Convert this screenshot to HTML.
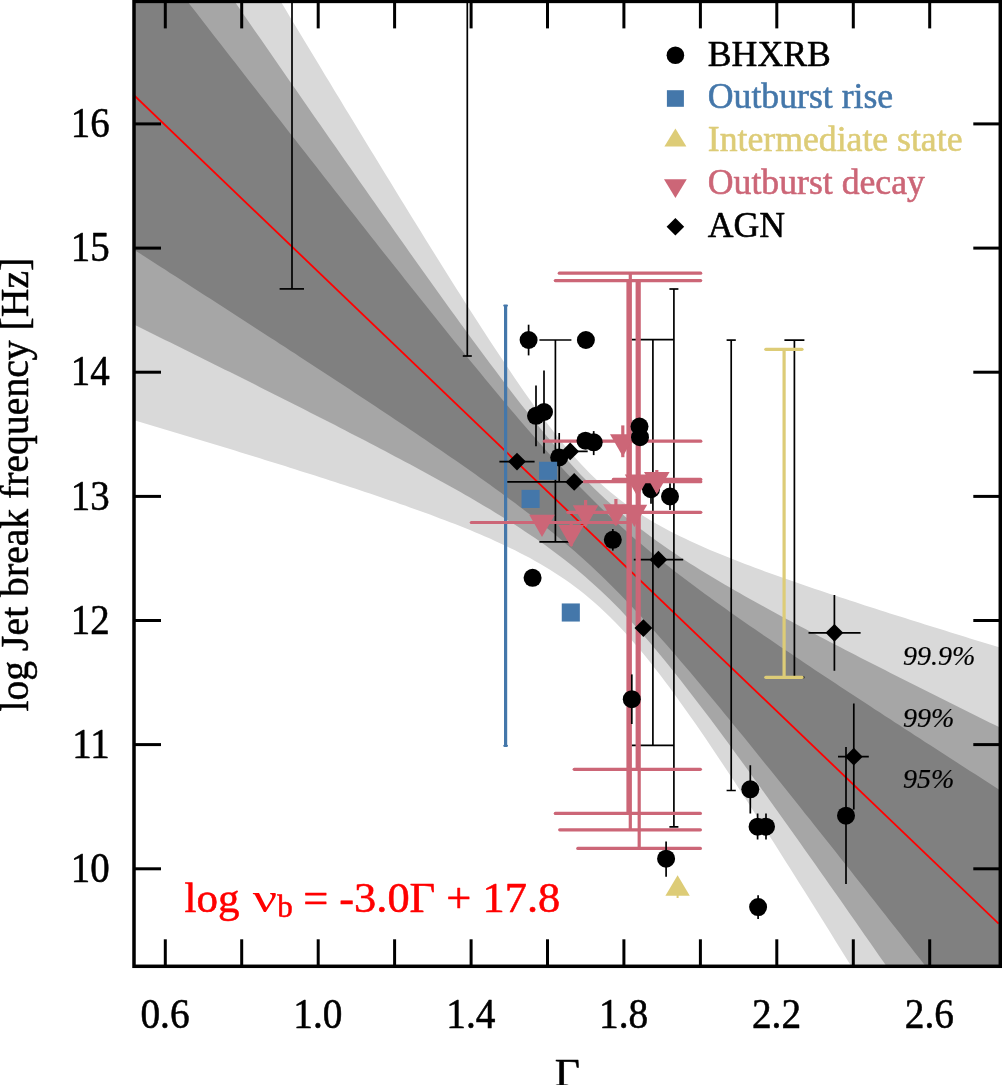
<!DOCTYPE html>
<html><head><meta charset="utf-8"><title>Jet break frequency</title>
<style>html,body{margin:0;padding:0;background:#fff}svg{display:block}</style></head>
<body>
<svg width="1002" height="1085" viewBox="0 0 1002 1085" style="display:block">
<rect width="1002" height="1085" fill="#fff"/>
<defs><clipPath id="c"><rect x="134.0" y="1.4" width="866.3" height="964.9"/></clipPath></defs>
<g clip-path="url(#c)">
<polygon points="120.0,-266.4 125.0,-258.0 130.0,-249.7 135.0,-241.3 140.0,-232.9 145.0,-224.6 150.0,-216.2 155.0,-207.9 160.0,-199.5 165.0,-191.2 170.0,-182.8 175.0,-174.5 180.0,-166.1 185.0,-157.8 190.0,-149.5 195.0,-141.1 200.0,-132.8 205.0,-124.4 210.0,-116.1 215.0,-107.8 220.0,-99.4 225.0,-91.1 230.0,-82.8 235.0,-74.5 240.0,-66.1 245.0,-57.8 250.0,-49.5 255.0,-41.2 260.0,-32.9 265.0,-24.6 270.0,-16.3 275.0,-8.0 280.0,0.3 285.0,8.6 290.0,16.9 295.0,25.2 300.0,33.5 305.0,41.8 310.0,50.1 315.0,58.3 320.0,66.6 325.0,74.9 330.0,83.1 335.0,91.4 340.0,99.6 345.0,107.9 350.0,116.1 355.0,124.3 360.0,132.5 365.0,140.7 370.0,148.9 375.0,157.1 380.0,165.3 385.0,173.5 390.0,181.6 395.0,189.8 400.0,197.9 405.0,206.1 410.0,214.2 415.0,222.3 420.0,230.3 425.0,238.4 430.0,246.5 435.0,254.5 440.0,262.5 445.0,270.5 450.0,278.4 455.0,286.4 460.0,294.3 465.0,302.2 470.0,310.0 475.0,317.8 480.0,325.6 485.0,333.3 490.0,340.9 495.0,348.6 500.0,356.1 505.0,363.6 510.0,371.1 515.0,378.4 520.0,385.7 525.0,392.9 530.0,400.0 535.0,406.9 540.0,413.8 545.0,420.5 550.0,427.1 555.0,433.6 560.0,439.8 565.0,445.9 570.0,451.8 575.0,457.5 580.0,463.1 585.0,468.3 590.0,473.4 595.0,478.3 600.0,482.9 605.0,487.4 610.0,491.7 615.0,495.8 620.0,499.7 625.0,503.4 630.0,507.0 635.0,510.5 640.0,513.8 645.0,517.0 650.0,520.0 655.0,522.9 660.0,525.8 665.0,528.5 670.0,531.2 675.0,533.7 680.0,536.2 685.0,538.6 690.0,541.0 695.0,543.3 700.0,545.5 705.0,547.7 710.0,549.9 715.0,552.0 720.0,554.1 725.0,556.1 730.0,558.1 735.0,560.1 740.0,562.0 745.0,563.9 750.0,565.8 755.0,567.7 760.0,569.5 765.0,571.4 770.0,573.2 775.0,575.0 780.0,576.8 785.0,578.5 790.0,580.3 795.0,582.0 800.0,583.7 805.0,585.5 810.0,587.2 815.0,588.9 820.0,590.5 825.0,592.2 830.0,593.9 835.0,595.5 840.0,597.2 845.0,598.8 850.0,600.5 855.0,602.1 860.0,603.7 865.0,605.4 870.0,607.0 875.0,608.6 880.0,610.2 885.0,611.8 890.0,613.4 895.0,615.0 900.0,616.5 905.0,618.1 910.0,619.7 915.0,621.3 920.0,622.8 925.0,624.4 930.0,626.0 935.0,627.5 940.0,629.1 945.0,630.6 950.0,632.2 955.0,633.7 960.0,635.3 965.0,636.8 970.0,638.4 975.0,639.9 980.0,641.5 985.0,643.0 990.0,644.5 995.0,646.1 1000.0,647.6 1005.0,649.1 1010.0,650.6 1010.0,1225.2 1005.0,1217.0 1000.0,1208.8 995.0,1200.6 990.0,1192.4 985.0,1184.2 980.0,1176.0 975.0,1167.8 970.0,1159.6 965.0,1151.5 960.0,1143.3 955.0,1135.1 950.0,1126.9 945.0,1118.7 940.0,1110.6 935.0,1102.4 930.0,1094.2 925.0,1086.1 920.0,1077.9 915.0,1069.8 910.0,1061.6 905.0,1053.5 900.0,1045.3 895.0,1037.2 890.0,1029.1 885.0,1021.0 880.0,1012.9 875.0,1004.7 870.0,996.6 865.0,988.5 860.0,980.5 855.0,972.4 850.0,964.3 845.0,956.2 840.0,948.2 835.0,940.2 830.0,932.1 825.0,924.1 820.0,916.1 815.0,908.1 810.0,900.1 805.0,892.1 800.0,884.2 795.0,876.2 790.0,868.3 785.0,860.4 780.0,852.5 775.0,844.6 770.0,836.8 765.0,829.0 760.0,821.2 755.0,813.4 750.0,805.6 745.0,797.9 740.0,790.3 735.0,782.6 730.0,775.0 725.0,767.4 720.0,759.9 715.0,752.4 710.0,745.0 705.0,737.6 700.0,730.3 695.0,723.1 690.0,715.9 685.0,708.9 680.0,701.9 675.0,694.9 670.0,688.1 665.0,681.4 660.0,674.8 655.0,668.4 650.0,662.0 645.0,655.8 640.0,649.8 635.0,643.9 630.0,638.2 625.0,632.6 620.0,627.2 615.0,622.0 610.0,617.0 605.0,612.2 600.0,607.5 595.0,603.0 590.0,598.7 585.0,594.6 580.0,590.6 575.0,586.8 570.0,583.1 565.0,579.6 560.0,576.2 555.0,572.9 550.0,569.7 545.0,566.7 540.0,563.7 535.0,560.9 530.0,558.1 525.0,555.5 520.0,552.9 515.0,550.3 510.0,547.9 505.0,545.5 500.0,543.2 495.0,540.9 490.0,538.6 485.0,536.5 480.0,534.3 475.0,532.2 470.0,530.1 465.0,528.1 460.0,526.1 455.0,524.1 450.0,522.2 445.0,520.3 440.0,518.4 435.0,516.5 430.0,514.6 425.0,512.8 420.0,511.0 415.0,509.2 410.0,507.4 405.0,505.6 400.0,503.9 395.0,502.1 390.0,500.4 385.0,498.7 380.0,497.0 375.0,495.3 370.0,493.6 365.0,491.9 360.0,490.3 355.0,488.6 350.0,487.0 345.0,485.3 340.0,483.7 335.0,482.1 330.0,480.5 325.0,478.8 320.0,477.2 315.0,475.6 310.0,474.0 305.0,472.5 300.0,470.9 295.0,469.3 290.0,467.7 285.0,466.1 280.0,464.6 275.0,463.0 270.0,461.5 265.0,459.9 260.0,458.3 255.0,456.8 250.0,455.3 245.0,453.7 240.0,452.2 235.0,450.6 230.0,449.1 225.0,447.6 220.0,446.0 215.0,444.5 210.0,443.0 205.0,441.5 200.0,440.0 195.0,438.4 190.0,436.9 185.0,435.4 180.0,433.9 175.0,432.4 170.0,430.9 165.0,429.4 160.0,427.9 155.0,426.4 150.0,424.9 145.0,423.4 140.0,421.9 135.0,420.4 130.0,418.9 125.0,417.4 120.0,415.9" fill="#d9d9d9"/>
<polygon points="120.0,-164.9 125.0,-157.6 130.0,-150.4 135.0,-143.1 140.0,-135.8 145.0,-128.6 150.0,-121.3 155.0,-114.0 160.0,-106.8 165.0,-99.5 170.0,-92.3 175.0,-85.0 180.0,-77.7 185.0,-70.5 190.0,-63.2 195.0,-56.0 200.0,-48.7 205.0,-41.5 210.0,-34.2 215.0,-27.0 220.0,-19.8 225.0,-12.5 230.0,-5.3 235.0,2.0 240.0,9.2 245.0,16.4 250.0,23.7 255.0,30.9 260.0,38.1 265.0,45.3 270.0,52.6 275.0,59.8 280.0,67.0 285.0,74.2 290.0,81.4 295.0,88.6 300.0,95.8 305.0,103.0 310.0,110.2 315.0,117.4 320.0,124.6 325.0,131.8 330.0,139.0 335.0,146.1 340.0,153.3 345.0,160.5 350.0,167.6 355.0,174.8 360.0,181.9 365.0,189.0 370.0,196.2 375.0,203.3 380.0,210.4 385.0,217.5 390.0,224.6 395.0,231.7 400.0,238.8 405.0,245.8 410.0,252.9 415.0,260.0 420.0,267.0 425.0,274.0 430.0,281.0 435.0,288.0 440.0,295.0 445.0,301.9 450.0,308.9 455.0,315.8 460.0,322.7 465.0,329.5 470.0,336.4 475.0,343.2 480.0,350.0 485.0,356.7 490.0,363.5 495.0,370.1 500.0,376.8 505.0,383.4 510.0,389.9 515.0,396.4 520.0,402.9 525.0,409.2 530.0,415.6 535.0,421.8 540.0,428.0 545.0,434.1 550.0,440.1 555.0,446.0 560.0,451.8 565.0,457.5 570.0,463.1 575.0,468.5 580.0,473.9 585.0,479.1 590.0,484.2 595.0,489.2 600.0,494.0 605.0,498.7 610.0,503.3 615.0,507.8 620.0,512.1 625.0,516.4 630.0,520.5 635.0,524.6 640.0,528.5 645.0,532.3 650.0,536.1 655.0,539.7 660.0,543.3 665.0,546.8 670.0,550.3 675.0,553.6 680.0,557.0 685.0,560.2 690.0,563.4 695.0,566.6 700.0,569.7 705.0,572.8 710.0,575.8 715.0,578.8 720.0,581.8 725.0,584.7 730.0,587.6 735.0,590.5 740.0,593.3 745.0,596.2 750.0,599.0 755.0,601.8 760.0,604.5 765.0,607.3 770.0,610.0 775.0,612.8 780.0,615.5 785.0,618.2 790.0,620.8 795.0,623.5 800.0,626.2 805.0,628.8 810.0,631.4 815.0,634.1 820.0,636.7 825.0,639.3 830.0,641.9 835.0,644.5 840.0,647.1 845.0,649.7 850.0,652.2 855.0,654.8 860.0,657.4 865.0,659.9 870.0,662.5 875.0,665.0 880.0,667.6 885.0,670.1 890.0,672.7 895.0,675.2 900.0,677.7 905.0,680.2 910.0,682.8 915.0,685.3 920.0,687.8 925.0,690.3 930.0,692.8 935.0,695.3 940.0,697.8 945.0,700.3 950.0,702.8 955.0,705.3 960.0,707.8 965.0,710.3 970.0,712.7 975.0,715.2 980.0,717.7 985.0,720.2 990.0,722.7 995.0,725.1 1000.0,727.6 1005.0,730.1 1010.0,732.6 1010.0,1144.6 1005.0,1137.3 1000.0,1130.1 995.0,1122.8 990.0,1115.6 985.0,1108.3 980.0,1101.1 975.0,1093.9 970.0,1086.6 965.0,1079.4 960.0,1072.2 955.0,1064.9 950.0,1057.7 945.0,1050.5 940.0,1043.3 935.0,1036.1 930.0,1028.8 925.0,1021.6 920.0,1014.4 915.0,1007.2 910.0,1000.0 905.0,992.8 900.0,985.6 895.0,978.4 890.0,971.2 885.0,964.0 880.0,956.9 875.0,949.7 870.0,942.5 865.0,935.4 860.0,928.2 855.0,921.0 850.0,913.9 845.0,906.8 840.0,899.6 835.0,892.5 830.0,885.4 825.0,878.3 820.0,871.2 815.0,864.1 810.0,857.0 805.0,849.9 800.0,842.8 795.0,835.8 790.0,828.8 785.0,821.7 780.0,814.7 775.0,807.7 770.0,800.7 765.0,793.8 760.0,786.8 755.0,779.9 750.0,773.0 745.0,766.1 740.0,759.2 735.0,752.4 730.0,745.6 725.0,738.8 720.0,732.0 715.0,725.3 710.0,718.6 705.0,712.0 700.0,705.4 695.0,698.9 690.0,692.4 685.0,685.9 680.0,679.6 675.0,673.2 670.0,667.0 665.0,660.8 660.0,654.7 655.0,648.7 650.0,642.8 645.0,637.0 640.0,631.3 635.0,625.7 630.0,620.2 625.0,614.9 620.0,609.6 615.0,604.5 610.0,599.5 605.0,594.7 600.0,590.0 595.0,585.4 590.0,580.9 585.0,576.5 580.0,572.2 575.0,568.1 570.0,564.0 565.0,560.0 560.0,556.2 555.0,552.4 550.0,548.7 545.0,545.1 540.0,541.6 535.0,538.1 530.0,534.7 525.0,531.4 520.0,528.1 515.0,524.8 510.0,521.7 505.0,518.5 500.0,515.4 495.0,512.4 490.0,509.3 485.0,506.4 480.0,503.4 475.0,500.5 470.0,497.6 465.0,494.7 460.0,491.8 455.0,489.0 450.0,486.2 445.0,483.4 440.0,480.7 435.0,477.9 430.0,475.2 425.0,472.4 420.0,469.7 415.0,467.0 410.0,464.3 405.0,461.7 400.0,459.0 395.0,456.4 390.0,453.7 385.0,451.1 380.0,448.5 375.0,445.8 370.0,443.2 365.0,440.6 360.0,438.0 355.0,435.4 350.0,432.9 345.0,430.3 340.0,427.7 335.0,425.1 330.0,422.6 325.0,420.0 320.0,417.5 315.0,414.9 310.0,412.4 305.0,409.8 300.0,407.3 295.0,404.8 290.0,402.3 285.0,399.7 280.0,397.2 275.0,394.7 270.0,392.2 265.0,389.7 260.0,387.2 255.0,384.6 250.0,382.1 245.0,379.6 240.0,377.1 235.0,374.6 230.0,372.1 225.0,369.7 220.0,367.2 215.0,364.7 210.0,362.2 205.0,359.7 200.0,357.2 195.0,354.7 190.0,352.3 185.0,349.8 180.0,347.3 175.0,344.8 170.0,342.3 165.0,339.9 160.0,337.4 155.0,334.9 150.0,332.5 145.0,330.0 140.0,327.5 135.0,325.1 130.0,322.6 125.0,320.1 120.0,317.7" fill="#a6a6a6"/>
<polygon points="120.0,-85.5 125.0,-79.1 130.0,-72.6 135.0,-66.2 140.0,-59.7 145.0,-53.3 150.0,-46.8 155.0,-40.4 160.0,-33.9 165.0,-27.5 170.0,-21.1 175.0,-14.6 180.0,-8.2 185.0,-1.7 190.0,4.7 195.0,11.1 200.0,17.6 205.0,24.0 210.0,30.4 215.0,36.9 220.0,43.3 225.0,49.7 230.0,56.2 235.0,62.6 240.0,69.0 245.0,75.4 250.0,81.9 255.0,88.3 260.0,94.7 265.0,101.1 270.0,107.5 275.0,113.9 280.0,120.3 285.0,126.7 290.0,133.2 295.0,139.6 300.0,146.0 305.0,152.3 310.0,158.7 315.0,165.1 320.0,171.5 325.0,177.9 330.0,184.3 335.0,190.7 340.0,197.0 345.0,203.4 350.0,209.8 355.0,216.1 360.0,222.5 365.0,228.8 370.0,235.2 375.0,241.5 380.0,247.9 385.0,254.2 390.0,260.5 395.0,266.8 400.0,273.1 405.0,279.4 410.0,285.7 415.0,292.0 420.0,298.3 425.0,304.5 430.0,310.8 435.0,317.0 440.0,323.3 445.0,329.5 450.0,335.7 455.0,341.9 460.0,348.1 465.0,354.2 470.0,360.4 475.0,366.5 480.0,372.6 485.0,378.7 490.0,384.7 495.0,390.8 500.0,396.8 505.0,402.7 510.0,408.7 515.0,414.6 520.0,420.5 525.0,426.3 530.0,432.1 535.0,437.8 540.0,443.5 545.0,449.2 550.0,454.8 555.0,460.3 560.0,465.8 565.0,471.2 570.0,476.5 575.0,481.8 580.0,487.0 585.0,492.1 590.0,497.1 595.0,502.1 600.0,506.9 605.0,511.7 610.0,516.4 615.0,521.1 620.0,525.6 625.0,530.1 630.0,534.5 635.0,538.9 640.0,543.1 645.0,547.3 650.0,551.5 655.0,555.6 660.0,559.6 665.0,563.6 670.0,567.5 675.0,571.4 680.0,575.3 685.0,579.1 690.0,582.8 695.0,586.6 700.0,590.3 705.0,593.9 710.0,597.6 715.0,601.2 720.0,604.8 725.0,608.3 730.0,611.9 735.0,615.4 740.0,618.9 745.0,622.4 750.0,625.9 755.0,629.3 760.0,632.8 765.0,636.2 770.0,639.6 775.0,643.0 780.0,646.4 785.0,649.8 790.0,653.1 795.0,656.5 800.0,659.8 805.0,663.2 810.0,666.5 815.0,669.9 820.0,673.2 825.0,676.5 830.0,679.8 835.0,683.1 840.0,686.4 845.0,689.7 850.0,693.0 855.0,696.3 860.0,699.6 865.0,702.8 870.0,706.1 875.0,709.4 880.0,712.6 885.0,715.9 890.0,719.1 895.0,722.4 900.0,725.6 905.0,728.9 910.0,732.1 915.0,735.4 920.0,738.6 925.0,741.9 930.0,745.1 935.0,748.3 940.0,751.5 945.0,754.8 950.0,758.0 955.0,761.2 960.0,764.4 965.0,767.7 970.0,770.9 975.0,774.1 980.0,777.3 985.0,780.5 990.0,783.7 995.0,787.0 1000.0,790.2 1005.0,793.4 1010.0,796.6 1010.0,1074.0 1005.0,1067.6 1000.0,1061.2 995.0,1054.8 990.0,1048.4 985.0,1042.0 980.0,1035.6 975.0,1029.2 970.0,1022.9 965.0,1016.5 960.0,1010.1 955.0,1003.7 950.0,997.3 945.0,990.9 940.0,984.6 935.0,978.2 930.0,971.8 925.0,965.4 920.0,959.1 915.0,952.7 910.0,946.3 905.0,939.9 900.0,933.6 895.0,927.2 890.0,920.9 885.0,914.5 880.0,908.2 875.0,901.8 870.0,895.5 865.0,889.1 860.0,882.8 855.0,876.4 850.0,870.1 845.0,863.8 840.0,857.5 835.0,851.1 830.0,844.8 825.0,838.5 820.0,832.2 815.0,825.9 810.0,819.6 805.0,813.4 800.0,807.1 795.0,800.8 790.0,794.5 785.0,788.3 780.0,782.1 775.0,775.8 770.0,769.6 765.0,763.4 760.0,757.2 755.0,751.0 750.0,744.8 745.0,738.6 740.0,732.5 735.0,726.4 730.0,720.2 725.0,714.2 720.0,708.1 715.0,702.0 710.0,696.0 705.0,690.0 700.0,684.0 695.0,678.1 690.0,672.1 685.0,666.3 680.0,660.4 675.0,654.6 670.0,648.8 665.0,643.1 660.0,637.4 655.0,631.8 650.0,626.3 645.0,620.8 640.0,615.3 635.0,610.0 630.0,604.7 625.0,599.4 620.0,594.3 615.0,589.2 610.0,584.2 605.0,579.3 600.0,574.5 595.0,569.7 590.0,565.1 585.0,560.5 580.0,556.0 575.0,551.5 570.0,547.2 565.0,542.9 560.0,538.7 555.0,534.5 550.0,530.4 545.0,526.4 540.0,522.4 535.0,518.5 530.0,514.6 525.0,510.7 520.0,506.9 515.0,503.1 510.0,499.4 505.0,495.7 500.0,492.1 495.0,488.4 490.0,484.8 485.0,481.2 480.0,477.7 475.0,474.1 470.0,470.6 465.0,467.1 460.0,463.6 455.0,460.1 450.0,456.7 445.0,453.2 440.0,449.8 435.0,446.4 430.0,443.0 425.0,439.6 420.0,436.2 415.0,432.8 410.0,429.5 405.0,426.1 400.0,422.8 395.0,419.4 390.0,416.1 385.0,412.8 380.0,409.4 375.0,406.1 370.0,402.8 365.0,399.5 360.0,396.2 355.0,392.9 350.0,389.6 345.0,386.3 340.0,383.0 335.0,379.8 330.0,376.5 325.0,373.2 320.0,370.0 315.0,366.7 310.0,363.4 305.0,360.2 300.0,356.9 295.0,353.6 290.0,350.4 285.0,347.1 280.0,343.9 275.0,340.6 270.0,337.4 265.0,334.2 260.0,330.9 255.0,327.7 250.0,324.4 245.0,321.2 240.0,318.0 235.0,314.7 230.0,311.5 225.0,308.3 220.0,305.1 215.0,301.8 210.0,298.6 205.0,295.4 200.0,292.2 195.0,288.9 190.0,285.7 185.0,282.5 180.0,279.3 175.0,276.1 170.0,272.9 165.0,269.6 160.0,266.4 155.0,263.2 150.0,260.0 145.0,256.8 140.0,253.6 135.0,250.4 130.0,247.2 125.0,244.0 120.0,240.8" fill="#808080"/>
<line x1="133.7" y1="95" x2="998.6" y2="923.7" stroke="#ff0000" stroke-width="1.8"/>
<line x1="292" y1="-5" x2="292" y2="288.9" stroke="#000" stroke-width="1.7" stroke-linecap="butt"/>
<line x1="279.6" y1="288.9" x2="304" y2="288.9" stroke="#000" stroke-width="1.7" stroke-linecap="butt"/>
<line x1="467.3" y1="-5" x2="467.3" y2="356" stroke="#000" stroke-width="1.7" stroke-linecap="butt"/>
<line x1="462.8" y1="356" x2="471.8" y2="356" stroke="#000" stroke-width="1.7" stroke-linecap="butt"/>
<line x1="555.4" y1="340" x2="555.4" y2="541.9" stroke="#000" stroke-width="1.7" stroke-linecap="butt"/>
<line x1="539.4" y1="340" x2="571.4" y2="340" stroke="#000" stroke-width="1.7" stroke-linecap="butt"/>
<line x1="539.4" y1="541.9" x2="571.4" y2="541.9" stroke="#000" stroke-width="1.7" stroke-linecap="butt"/>
<line x1="652.9" y1="339.7" x2="652.9" y2="745.4" stroke="#000" stroke-width="1.7" stroke-linecap="butt"/>
<line x1="631.5" y1="339.7" x2="674" y2="339.7" stroke="#000" stroke-width="1.7" stroke-linecap="butt"/>
<line x1="631.5" y1="745.4" x2="674" y2="745.4" stroke="#000" stroke-width="1.7" stroke-linecap="butt"/>
<line x1="673.9" y1="289" x2="673.9" y2="826.8" stroke="#000" stroke-width="1.7" stroke-linecap="butt"/>
<line x1="669.4" y1="289" x2="678.4" y2="289" stroke="#000" stroke-width="1.7" stroke-linecap="butt"/>
<line x1="669.4" y1="826.8" x2="678.4" y2="826.8" stroke="#000" stroke-width="1.7" stroke-linecap="butt"/>
<line x1="731.2" y1="340.1" x2="731.2" y2="790.5" stroke="#000" stroke-width="1.7" stroke-linecap="butt"/>
<line x1="726.6" y1="340.1" x2="735.8" y2="340.1" stroke="#000" stroke-width="1.7" stroke-linecap="butt"/>
<line x1="726.6" y1="790.5" x2="735.8" y2="790.5" stroke="#000" stroke-width="1.7" stroke-linecap="butt"/>
<line x1="794.4" y1="340.1" x2="794.4" y2="677.4" stroke="#000" stroke-width="1.7" stroke-linecap="butt"/>
<line x1="784.4" y1="340.1" x2="804.4" y2="340.1" stroke="#000" stroke-width="1.7" stroke-linecap="butt"/>
<line x1="784.4" y1="677.4" x2="804.4" y2="677.4" stroke="#000" stroke-width="1.7" stroke-linecap="butt"/>
<line x1="528.6" y1="324.7" x2="528.6" y2="355.4" stroke="#000" stroke-width="1.7" stroke-linecap="butt"/>
<circle cx="528.6" cy="340" r="9" fill="#000"/>
<circle cx="585.9" cy="340" r="9" fill="#000"/>
<line x1="536.0" y1="385.4" x2="536.0" y2="446.3" stroke="#000" stroke-width="1.7" stroke-linecap="butt"/>
<circle cx="536.0" cy="415.8" r="9" fill="#000"/>
<line x1="544.0" y1="370.4" x2="544.0" y2="453.5" stroke="#000" stroke-width="1.7" stroke-linecap="butt"/>
<circle cx="544.0" cy="412" r="9" fill="#000"/>
<line x1="559.2" y1="433" x2="559.2" y2="481.6" stroke="#000" stroke-width="1.7" stroke-linecap="butt"/>
<circle cx="559.2" cy="457.5" r="9" fill="#000"/>
<line x1="651" y1="474.6" x2="651" y2="503.8" stroke="#000" stroke-width="1.7" stroke-linecap="butt"/>
<circle cx="651" cy="489.2" r="9" fill="#000"/>
<line x1="670.0" y1="483.3" x2="670.0" y2="510.1" stroke="#000" stroke-width="1.7" stroke-linecap="butt"/>
<circle cx="670.0" cy="496.5" r="9" fill="#000"/>
<line x1="612.8" y1="529" x2="612.8" y2="550.6" stroke="#000" stroke-width="1.7" stroke-linecap="butt"/>
<circle cx="612.8" cy="539.8" r="9" fill="#000"/>
<circle cx="532.6" cy="577.8" r="9" fill="#000"/>
<line x1="505.6" y1="305.3" x2="505.6" y2="746" stroke="#4477aa" stroke-width="3.2" stroke-linecap="butt"/>
<line x1="504.3" y1="305.6" x2="506.9" y2="305.6" stroke="#4477aa" stroke-width="2.2" stroke-linecap="round"/>
<line x1="504.3" y1="745.8" x2="506.9" y2="745.8" stroke="#4477aa" stroke-width="2.2" stroke-linecap="round"/>
<rect x="539.0500000000001" y="461.75" width="18.1" height="18.1" fill="#4477aa"/>
<rect x="521.5500000000001" y="489.84999999999997" width="18.1" height="18.1" fill="#4477aa"/>
<rect x="561.75" y="603.45" width="18.1" height="18.1" fill="#4477aa"/>
<line x1="507.3" y1="481.9" x2="642" y2="481.9" stroke="#000" stroke-width="1.7" stroke-linecap="butt"/>
<line x1="633.8" y1="559.7" x2="683.2" y2="559.7" stroke="#000" stroke-width="1.7" stroke-linecap="butt"/>
<line x1="559.3" y1="273.2" x2="700.7" y2="273.2" stroke="#cc6677" stroke-width="3.2" stroke-linecap="round"/>
<line x1="555.3" y1="280.6" x2="700.7" y2="280.6" stroke="#cc6677" stroke-width="3.2" stroke-linecap="round"/>
<line x1="544.3" y1="441.2" x2="700.8000000000001" y2="441.2" stroke="#cc6677" stroke-width="3.2" stroke-linecap="round"/>
<line x1="613.3" y1="479.4" x2="700.8000000000001" y2="479.4" stroke="#cc6677" stroke-width="3.2" stroke-linecap="round"/>
<line x1="584.3" y1="481.7" x2="700.8000000000001" y2="481.7" stroke="#cc6677" stroke-width="3.2" stroke-linecap="round"/>
<line x1="567.9" y1="512.3" x2="700.8000000000001" y2="512.3" stroke="#cc6677" stroke-width="3.2" stroke-linecap="round"/>
<line x1="471.3" y1="522.5" x2="626.7" y2="522.5" stroke="#cc6677" stroke-width="3.2" stroke-linecap="round"/>
<line x1="574.1999999999999" y1="769.3" x2="700.4000000000001" y2="769.3" stroke="#cc6677" stroke-width="3.2" stroke-linecap="round"/>
<line x1="555.3" y1="813.4" x2="700.4000000000001" y2="813.4" stroke="#cc6677" stroke-width="3.2" stroke-linecap="round"/>
<line x1="559.6999999999999" y1="829.8" x2="700.4000000000001" y2="829.8" stroke="#cc6677" stroke-width="3.2" stroke-linecap="round"/>
<line x1="577.8" y1="848.4" x2="700.4000000000001" y2="848.4" stroke="#cc6677" stroke-width="3.2" stroke-linecap="round"/>
<line x1="628" y1="280.6" x2="628" y2="813.4" stroke="#cc6677" stroke-width="3.2" stroke-linecap="butt"/>
<line x1="630.3" y1="273.2" x2="630.3" y2="829.8" stroke="#cc6677" stroke-width="3.2" stroke-linecap="butt"/>
<line x1="637.2" y1="280.6" x2="637.2" y2="769.3" stroke="#cc6677" stroke-width="3.2" stroke-linecap="butt"/>
<line x1="639.2" y1="280.6" x2="639.2" y2="848.4" stroke="#cc6677" stroke-width="3.2" stroke-linecap="butt"/>
<line x1="571.2" y1="523.5" x2="571.2" y2="546" stroke="#cc6677" stroke-width="3.2" stroke-linecap="butt"/>
<line x1="585.6" y1="500" x2="585.6" y2="526" stroke="#cc6677" stroke-width="3.2" stroke-linecap="butt"/>
<line x1="615.9" y1="499" x2="615.9" y2="525" stroke="#cc6677" stroke-width="3.2" stroke-linecap="butt"/>
<line x1="622.8" y1="425.4" x2="622.8" y2="457.2" stroke="#cc6677" stroke-width="3.2" stroke-linecap="butt"/>
<line x1="656.8" y1="470" x2="656.8" y2="492" stroke="#cc6677" stroke-width="3.2" stroke-linecap="butt"/>
<polygon points="529.2,514.7 554.8,514.7 542,536.9000000000001" fill="#cc6677"/>
<polygon points="558.4000000000001,525.1 584.0,525.1 571.2,547.3000000000001" fill="#cc6677"/>
<polygon points="572.8000000000001,505.2 598.4,505.2 585.6,527.4" fill="#cc6677"/>
<polygon points="603.1,504.2 628.6999999999999,504.2 615.9,526.4" fill="#cc6677"/>
<polygon points="621.6,504.8 647.1999999999999,504.8 634.4,527.0" fill="#cc6677"/>
<polygon points="610.0,434.2 635.5999999999999,434.2 622.8,456.4" fill="#cc6677"/>
<polygon points="624.8000000000001,474.5 650.4,474.5 637.6,496.7" fill="#cc6677"/>
<polygon points="644.0,472.1 669.5999999999999,472.1 656.8,494.3" fill="#cc6677"/>
<circle cx="585.5" cy="440.7" r="9" fill="#000"/>
<line x1="593.7" y1="431.1" x2="593.7" y2="455.1" stroke="#000" stroke-width="1.7" stroke-linecap="butt"/>
<circle cx="593.7" cy="442.3" r="9" fill="#000"/>
<circle cx="639.5" cy="426.5" r="9" fill="#000"/>
<circle cx="640.0" cy="437.2" r="9" fill="#000"/>
<line x1="631.8" y1="674.4" x2="631.8" y2="724" stroke="#000" stroke-width="1.7" stroke-linecap="butt"/>
<circle cx="631.8" cy="699.2" r="9" fill="#000"/>
<line x1="666.1" y1="841.4" x2="666.1" y2="876.7" stroke="#000" stroke-width="1.7" stroke-linecap="butt"/>
<circle cx="666.1" cy="858.7" r="9" fill="#000"/>
<line x1="750.3" y1="765.2" x2="750.3" y2="813.4" stroke="#000" stroke-width="1.7" stroke-linecap="butt"/>
<circle cx="750.3" cy="789.3" r="9" fill="#000"/>
<line x1="757.6" y1="813.4" x2="757.6" y2="839.6" stroke="#000" stroke-width="1.7" stroke-linecap="butt"/>
<circle cx="757.6" cy="826.7" r="9" fill="#000"/>
<line x1="766" y1="813.4" x2="766" y2="839.6" stroke="#000" stroke-width="1.7" stroke-linecap="butt"/>
<circle cx="766" cy="826.7" r="9" fill="#000"/>
<line x1="758.1" y1="895.2" x2="758.1" y2="918.9" stroke="#000" stroke-width="1.7" stroke-linecap="butt"/>
<circle cx="758.1" cy="907.1" r="9" fill="#000"/>
<line x1="846" y1="747" x2="846" y2="884" stroke="#000" stroke-width="1.7" stroke-linecap="butt"/>
<circle cx="846" cy="815.7" r="9" fill="#000"/>
<line x1="784.1" y1="349.3" x2="784.1" y2="677.3" stroke="#ddcc77" stroke-width="3.2" stroke-linecap="butt"/>
<line x1="765.8" y1="349.3" x2="802.0" y2="349.3" stroke="#ddcc77" stroke-width="3.2" stroke-linecap="round"/>
<line x1="765.8" y1="677.3" x2="802.0" y2="677.3" stroke="#ddcc77" stroke-width="3.2" stroke-linecap="round"/>
<line x1="677.6" y1="890" x2="677.6" y2="898" stroke="#ddcc77" stroke-width="2" stroke-linecap="butt"/>
<polygon points="665.4,895.7 689.8000000000001,895.7 677.6,875.3000000000001" fill="#ddcc77"/>
<line x1="499.4" y1="461.6" x2="534.6" y2="461.6" stroke="#000" stroke-width="1.7" stroke-linecap="butt"/>
<polygon points="508.1,461.6 517,452.70000000000005 525.9,461.6 517,470.5" fill="#000"/>
<line x1="552.7" y1="451.4" x2="587.7" y2="451.4" stroke="#000" stroke-width="1.7" stroke-linecap="butt"/>
<polygon points="561.3000000000001,451.4 570.2,442.5 579.1,451.4 570.2,460.29999999999995" fill="#000"/>
<polygon points="565.3000000000001,481.9 574.2,473.0 583.1,481.9 574.2,490.79999999999995" fill="#000"/>
<polygon points="649.5,559.7 658.4,550.8000000000001 667.3,559.7 658.4,568.6" fill="#000"/>
<polygon points="634.5,628.1 643.4,619.2 652.3,628.1 643.4,637.0" fill="#000"/>
<line x1="808.5" y1="632.8" x2="860.6" y2="632.8" stroke="#000" stroke-width="1.7" stroke-linecap="butt"/>
<line x1="834.4" y1="595.1" x2="834.4" y2="670.8" stroke="#000" stroke-width="1.7" stroke-linecap="butt"/>
<polygon points="825.5,632.8 834.4,623.9 843.3,632.8 834.4,641.6999999999999" fill="#000"/>
<line x1="838" y1="756.7" x2="868.8" y2="756.7" stroke="#000" stroke-width="1.7" stroke-linecap="butt"/>
<line x1="853.8" y1="703.6" x2="853.8" y2="809.5" stroke="#000" stroke-width="1.7" stroke-linecap="butt"/>
<polygon points="844.9,756.7 853.8,747.8000000000001 862.6999999999999,756.7 853.8,765.6" fill="#000"/>
</g>
<rect x="134.0" y="1.4" width="866.3" height="964.9" fill="none" stroke="#000" stroke-width="3.5"/>
<line x1="165.3" y1="966.3" x2="165.3" y2="939.3" stroke="#000" stroke-width="3.0"/>
<line x1="165.3" y1="1.4" x2="165.3" y2="28.4" stroke="#000" stroke-width="3.0"/>
<line x1="241.7" y1="966.3" x2="241.7" y2="939.3" stroke="#000" stroke-width="3.0"/>
<line x1="241.7" y1="1.4" x2="241.7" y2="28.4" stroke="#000" stroke-width="3.0"/>
<line x1="318.2" y1="966.3" x2="318.2" y2="939.3" stroke="#000" stroke-width="3.0"/>
<line x1="318.2" y1="1.4" x2="318.2" y2="28.4" stroke="#000" stroke-width="3.0"/>
<line x1="394.6" y1="966.3" x2="394.6" y2="939.3" stroke="#000" stroke-width="3.0"/>
<line x1="394.6" y1="1.4" x2="394.6" y2="28.4" stroke="#000" stroke-width="3.0"/>
<line x1="471.1" y1="966.3" x2="471.1" y2="939.3" stroke="#000" stroke-width="3.0"/>
<line x1="471.1" y1="1.4" x2="471.1" y2="28.4" stroke="#000" stroke-width="3.0"/>
<line x1="547.5" y1="966.3" x2="547.5" y2="939.3" stroke="#000" stroke-width="3.0"/>
<line x1="547.5" y1="1.4" x2="547.5" y2="28.4" stroke="#000" stroke-width="3.0"/>
<line x1="623.9" y1="966.3" x2="623.9" y2="939.3" stroke="#000" stroke-width="3.0"/>
<line x1="623.9" y1="1.4" x2="623.9" y2="28.4" stroke="#000" stroke-width="3.0"/>
<line x1="700.4" y1="966.3" x2="700.4" y2="939.3" stroke="#000" stroke-width="3.0"/>
<line x1="700.4" y1="1.4" x2="700.4" y2="28.4" stroke="#000" stroke-width="3.0"/>
<line x1="776.8" y1="966.3" x2="776.8" y2="939.3" stroke="#000" stroke-width="3.0"/>
<line x1="776.8" y1="1.4" x2="776.8" y2="28.4" stroke="#000" stroke-width="3.0"/>
<line x1="853.3" y1="966.3" x2="853.3" y2="939.3" stroke="#000" stroke-width="3.0"/>
<line x1="853.3" y1="1.4" x2="853.3" y2="28.4" stroke="#000" stroke-width="3.0"/>
<line x1="929.7" y1="966.3" x2="929.7" y2="939.3" stroke="#000" stroke-width="3.0"/>
<line x1="929.7" y1="1.4" x2="929.7" y2="28.4" stroke="#000" stroke-width="3.0"/>
<line x1="1006.1" y1="966.3" x2="1006.1" y2="939.3" stroke="#000" stroke-width="3.0"/>
<line x1="1006.1" y1="1.4" x2="1006.1" y2="28.4" stroke="#000" stroke-width="3.0"/>
<line x1="134.0" y1="868.8" x2="161.0" y2="868.8" stroke="#000" stroke-width="3.0"/>
<line x1="1000.3" y1="868.8" x2="973.3" y2="868.8" stroke="#000" stroke-width="3.0"/>
<line x1="134.0" y1="744.6" x2="161.0" y2="744.6" stroke="#000" stroke-width="3.0"/>
<line x1="1000.3" y1="744.6" x2="973.3" y2="744.6" stroke="#000" stroke-width="3.0"/>
<line x1="134.0" y1="620.5" x2="161.0" y2="620.5" stroke="#000" stroke-width="3.0"/>
<line x1="1000.3" y1="620.5" x2="973.3" y2="620.5" stroke="#000" stroke-width="3.0"/>
<line x1="134.0" y1="496.4" x2="161.0" y2="496.4" stroke="#000" stroke-width="3.0"/>
<line x1="1000.3" y1="496.4" x2="973.3" y2="496.4" stroke="#000" stroke-width="3.0"/>
<line x1="134.0" y1="372.2" x2="161.0" y2="372.2" stroke="#000" stroke-width="3.0"/>
<line x1="1000.3" y1="372.2" x2="973.3" y2="372.2" stroke="#000" stroke-width="3.0"/>
<line x1="134.0" y1="248.1" x2="161.0" y2="248.1" stroke="#000" stroke-width="3.0"/>
<line x1="1000.3" y1="248.1" x2="973.3" y2="248.1" stroke="#000" stroke-width="3.0"/>
<line x1="134.0" y1="123.9" x2="161.0" y2="123.9" stroke="#000" stroke-width="3.0"/>
<line x1="1000.3" y1="123.9" x2="973.3" y2="123.9" stroke="#000" stroke-width="3.0"/>
<text transform="translate(109.6,882.0) scale(0.94,1)" font-family="Liberation Serif, serif" stroke-width="0.55" stroke-linejoin="round" stroke="#000" font-size="41.4" text-anchor="end">10</text>
<text transform="translate(109.6,757.9) scale(0.94,1)" font-family="Liberation Serif, serif" stroke-width="0.55" stroke-linejoin="round" stroke="#000" font-size="41.4" text-anchor="end">11</text>
<text transform="translate(109.6,633.7) scale(0.94,1)" font-family="Liberation Serif, serif" stroke-width="0.55" stroke-linejoin="round" stroke="#000" font-size="41.4" text-anchor="end">12</text>
<text transform="translate(109.6,509.6) scale(0.94,1)" font-family="Liberation Serif, serif" stroke-width="0.55" stroke-linejoin="round" stroke="#000" font-size="41.4" text-anchor="end">13</text>
<text transform="translate(109.6,385.4) scale(0.94,1)" font-family="Liberation Serif, serif" stroke-width="0.55" stroke-linejoin="round" stroke="#000" font-size="41.4" text-anchor="end">14</text>
<text transform="translate(109.6,261.2) scale(0.94,1)" font-family="Liberation Serif, serif" stroke-width="0.55" stroke-linejoin="round" stroke="#000" font-size="41.4" text-anchor="end">15</text>
<text transform="translate(109.6,137.1) scale(0.94,1)" font-family="Liberation Serif, serif" stroke-width="0.55" stroke-linejoin="round" stroke="#000" font-size="41.4" text-anchor="end">16</text>
<text transform="translate(165.0,1028) scale(0.955,1)" font-family="Liberation Serif, serif" stroke-width="0.55" stroke-linejoin="round" stroke="#000" font-size="41.2" text-anchor="middle">0.6</text>
<text transform="translate(317.9,1028) scale(0.955,1)" font-family="Liberation Serif, serif" stroke-width="0.55" stroke-linejoin="round" stroke="#000" font-size="41.2" text-anchor="middle">1.0</text>
<text transform="translate(470.8,1028) scale(0.955,1)" font-family="Liberation Serif, serif" stroke-width="0.55" stroke-linejoin="round" stroke="#000" font-size="41.2" text-anchor="middle">1.4</text>
<text transform="translate(623.6,1028) scale(0.955,1)" font-family="Liberation Serif, serif" stroke-width="0.55" stroke-linejoin="round" stroke="#000" font-size="41.2" text-anchor="middle">1.8</text>
<text transform="translate(776.5,1028) scale(0.955,1)" font-family="Liberation Serif, serif" stroke-width="0.55" stroke-linejoin="round" stroke="#000" font-size="41.2" text-anchor="middle">2.2</text>
<text transform="translate(929.4,1028) scale(0.955,1)" font-family="Liberation Serif, serif" stroke-width="0.55" stroke-linejoin="round" stroke="#000" font-size="41.2" text-anchor="middle">2.6</text>
<text transform="translate(567.2,1085.6) scale(1.06,1)" font-family="Liberation Serif, serif" stroke-width="0.55" stroke-linejoin="round" stroke="#000" font-size="41" text-anchor="middle">Γ</text>
<text transform="translate(27.5,711.5) rotate(-90) scale(1.015,1)" font-family="Liberation Serif, serif" stroke-width="0.5" stroke-linejoin="round" stroke="#000" font-size="39.1">log Jet break frequency [Hz]</text>
<circle cx="675.4" cy="55.3" r="8.8" fill="#000"/>
<rect x="666.9" y="90.2" width="17" height="16.6" fill="#4477aa"/>
<polygon points="664.4,146.6 686.4,146.6 675.4,128.6" fill="#ddcc77"/>
<polygon points="664.0,179.3 686.8,179.3 675.4,198" fill="#cc6677"/>
<polygon points="666.6,226.7 675.4,217.9 684.1999999999999,226.7 675.4,235.5" fill="#000"/>
<text transform="translate(707.8,65.5) scale(1.02,1)" font-family="Liberation Serif, serif" stroke-width="0.55" stroke-linejoin="round" stroke="#000" font-size="35" fill="#000">BHXRB</text>
<text transform="translate(707.8,108) scale(1.02,1)" font-family="Liberation Serif, serif" stroke-width="0.55" stroke-linejoin="round" stroke="#4477aa" font-size="35" fill="#4477aa">Outburst rise</text>
<text transform="translate(707.8,151.2) scale(1.02,1)" font-family="Liberation Serif, serif" stroke-width="0.55" stroke-linejoin="round" stroke="#ddcc77" font-size="35" fill="#ddcc77">Intermediate state</text>
<text transform="translate(707.8,193.6) scale(1.02,1)" font-family="Liberation Serif, serif" stroke-width="0.55" stroke-linejoin="round" stroke="#cc6677" font-size="35" fill="#cc6677">Outburst decay</text>
<text transform="translate(707.8,236.5) scale(1.02,1)" font-family="Liberation Serif, serif" stroke-width="0.55" stroke-linejoin="round" stroke="#000" font-size="35" fill="#000">AGN</text>
<text x="903" y="664.5" font-family="Liberation Serif, serif" stroke-width="0.2" stroke-linejoin="round" stroke="#000" font-size="28" font-style="italic">99.9%</text>
<text x="903" y="726.6" font-family="Liberation Serif, serif" stroke-width="0.2" stroke-linejoin="round" stroke="#000" font-size="28" font-style="italic">99%</text>
<text x="903" y="788.4" font-family="Liberation Serif, serif" stroke-width="0.2" stroke-linejoin="round" stroke="#000" font-size="28" font-style="italic">95%</text>
<text y="911.9" font-family="Liberation Serif, serif" stroke-width="0.55" stroke-linejoin="round" stroke="#ff0000" font-size="43" fill="#ff0000"><tspan x="184.6">log</tspan><tspan x="252.8" textLength="24.4" lengthAdjust="spacingAndGlyphs" stroke-width="0">ν</tspan><tspan x="277.2" y="917.3" font-size="31">b</tspan><tspan x="303.2" y="911.9" textLength="257" lengthAdjust="spacingAndGlyphs">= -3.0Γ + 17.8</tspan></text>
</svg>
</body></html>
